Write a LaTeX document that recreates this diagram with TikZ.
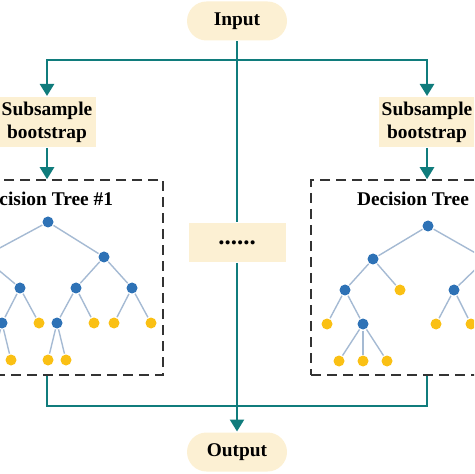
\documentclass[tikz,border=0pt]{standalone}
\usepackage{fontspec}
\setmainfont{Liberation Serif}
\usetikzlibrary{arrows.meta}

\definecolor{flowteal}{RGB}{16,124,124}
\definecolor{boxcream}{RGB}{252,240,211}
\definecolor{splitblue}{RGB}{46,114,182}
\definecolor{leafgold}{RGB}{250,192,20}
\definecolor{branchgray}{RGB}{165,186,211}
\definecolor{framegray}{RGB}{51,51,51}

\begin{document}
\begin{tikzpicture}[x=0.5pt, y=-0.5pt, line width=1pt,
    font=\fontsize{9.7}{11.5}\selectfont\bfseries,
    flow/.style={color=flowteal, line width=1.25pt},
    arrowhead/.style={-{Triangle[width=7pt, length=6pt]}},
    terminal/.style={fill=boxcream, rounded corners=9.75pt, minimum width=50pt, minimum height=19.5pt, inner sep=0pt},
    sample/.style={fill=boxcream, align=center, minimum width=48.5pt, minimum height=25pt, inner sep=0pt},
    forest/.style={draw=framegray, dash pattern=on 5pt off 3pt, line width=0.75pt, minimum width=116pt, minimum height=97.5pt},
    splitnode/.style={circle, fill=splitblue, minimum size=5.5pt, inner sep=0pt},
    leafnode/.style={circle, fill=leafgold, minimum size=5.5pt, inner sep=0pt},
    branch/.style={color=branchgray, line width=0.7pt}]
    \useasboundingbox (0,0) rectangle (474,474);
    \clip (0,0) rectangle (474,474);

    % draw input, output and sample boxes
    \node[terminal] (input) at (237,21) {Input};
    \node[terminal] (output) at (237,452) {Output};
    \node[sample] (sampleL) at (47,122) {Subsample\\bootstrap};
    \node[sample] (sampleR) at (427,122) {Subsample\\bootstrap};
    \node[sample, minimum height=19.5pt, font=\fontsize{12.5}{14}\selectfont\bfseries] (dots) at (237,242.5) {......};

    % draw dashed tree frames
    \node[forest] (treeL) at (47,277.5) {};
    \node[forest] (treeR) at (427,277.5) {};
    \node[anchor=east, inner sep=0pt] (titleL) at (114,199) {Decision Tree \#1};
    \node[anchor=west, inner sep=0pt] (titleR) at (356,199) {Decision Tree};

    % draw connectors
    \coordinate (fork) at (237,60);
    \coordinate (merge) at (237,406);
    \draw[flow] (input) -- (dots);
    \draw[flow, arrowhead] (dots) -- (output);
    \draw[flow, arrowhead] (fork) -| (sampleL);
    \draw[flow, arrowhead] (fork) -| (sampleR);
    \draw[flow, arrowhead] (sampleL) -- (treeL);
    \draw[flow, arrowhead] (sampleR) -- (treeR);
    \draw[flow] (treeL) |- (merge);
    \draw[flow] (treeR) |- (merge);

    % draw left tree
    \foreach \n/\x/\y in {la/48/222, lb/-17/257, lc/104/257, ld/20/288, lf/76/288, lg/132/288, lh/2/323, lj/57/323}
      \node[splitnode] (\n) at (\x,\y) {};
    \foreach \n/\x/\y in {li/39/323, lk/94/323, ll/114/323, lm/151/323, ln/-7/360, lo/11/360, lp/48/360, lq/66/360}
      \node[leafnode] (\n) at (\x,\y) {};
    \foreach \a/\b in {la/lb, la/lc, lb/ld, ld/lh, ld/li, lh/ln, lh/lo, lc/lf, lc/lg, lf/lj, lf/lk, lj/lp, lj/lq, lg/ll, lg/lm}
      \draw[branch] (\a) -- (\b);

    % draw right tree
    \foreach \n/\x/\y in {ra/428/226, rb/373/259, rc/486/259, rd/345/290, rh/363/324, rf/454/290}
      \node[splitnode] (\n) at (\x,\y) {};
    \foreach \n/\x/\y in {re/400/290, rg/327/324, ri/339/361, rj/363/361, rk/387/361, rl/436/324, rm/471/324}
      \node[leafnode] (\n) at (\x,\y) {};
    \foreach \a/\b in {ra/rb, ra/rc, rb/rd, rb/re, rd/rg, rd/rh, rh/ri, rh/rj, rh/rk, rc/rf, rf/rl, rf/rm}
      \draw[branch] (\a) -- (\b);

\end{tikzpicture}
\end{document}
